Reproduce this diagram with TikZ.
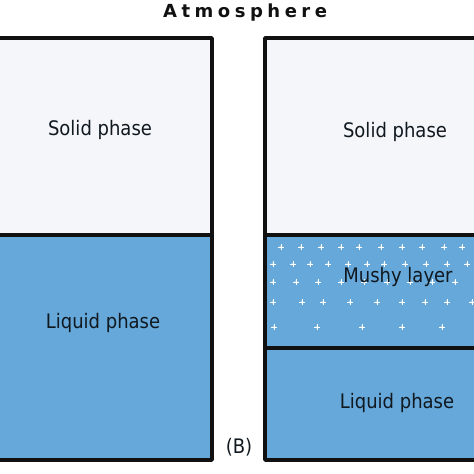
\documentclass[tikz,border=0pt]{standalone}
\usepackage{fontspec}
\setmainfont{DejaVu Sans}[FakeStretch=0.9]
\newfontfamily\atmfont{DejaVu Sans Bold}[LetterSpace=25]
\definecolor{solidc}{HTML}{F5F6FA}
\definecolor{liquidc}{HTML}{65A8D9}
\definecolor{edgec}{HTML}{111111}
\definecolor{textc}{HTML}{101820}
\tikzset{
  phaselabel/.style={font=\fontsize{20}{22}\selectfont, text=textc, inner sep=0pt},
  wall/.style={draw=edgec, line width=3.6pt, line join=round, line cap=round},
  sparkle/.style={white, line width=0.8pt},
  glow/.style={fill=white, fill opacity=0.35}
}
\begin{document}
\begin{tikzpicture}[x=1pt,y=-1pt]
\useasboundingbox (0,0) rectangle (474,474);
\clip (0,0) rectangle (474,474);
% left column
\fill[solidc] (-10,38) rectangle (212,235);
\fill[liquidc] (-10,235) rectangle (212,460);
% right column
\fill[solidc] (265,38) rectangle (490,235);
\fill[liquidc] (265,235) rectangle (490,460);
% sparkles in mushy layer
\foreach \y/\xs in {247/{281,301,321,341,359,381,402,422,444,462},
                    264/{273,293,310,328,348,367,384,405,426,447,467},
                    282/{273,296,318,341,364,387,410,432,455},
                    302/{273,302,323,350,377,402,425,447,472},
                    327/{274,317,362,402,442}}{
  \foreach \x in \xs {
    \fill[glow] (\x,\y) circle (1.8);
    \draw[sparkle] (\x-2.8,\y) -- (\x+2.8,\y);
    \draw[sparkle] (\x,\y-2.8) -- (\x,\y+2.8);
  }
}
% walls
\draw[wall] (-10,38) -- (212,38) -- (212,460) -- (-10,460);
\draw[wall] (-10,235) -- (212,235);
\draw[wall] (490,38) -- (265,38) -- (265,460) -- (490,460);
\draw[wall] (265,235) -- (490,235);
\draw[wall] (265,348) -- (490,348);
% labels
\node[inner sep=0pt, anchor=base west, font=\atmfont\fontsize{18}{20}\selectfont, text=edgec] (atm) at (163,17.5) {Atmosphere};
\node[phaselabel] (solidL) at (100,130) {Solid phase};
\node[phaselabel] (liquidL) at (103,323) {Liquid phase};
\node[phaselabel] (solidR) at (395,132) {Solid phase};
\node[phaselabel] (mushy) at (398,277) {Mushy layer};
\node[phaselabel] (liquidR) at (397,403) {Liquid phase};
\node[phaselabel] (lab) at (239,447) {(B)};
\end{tikzpicture}
\end{document}
